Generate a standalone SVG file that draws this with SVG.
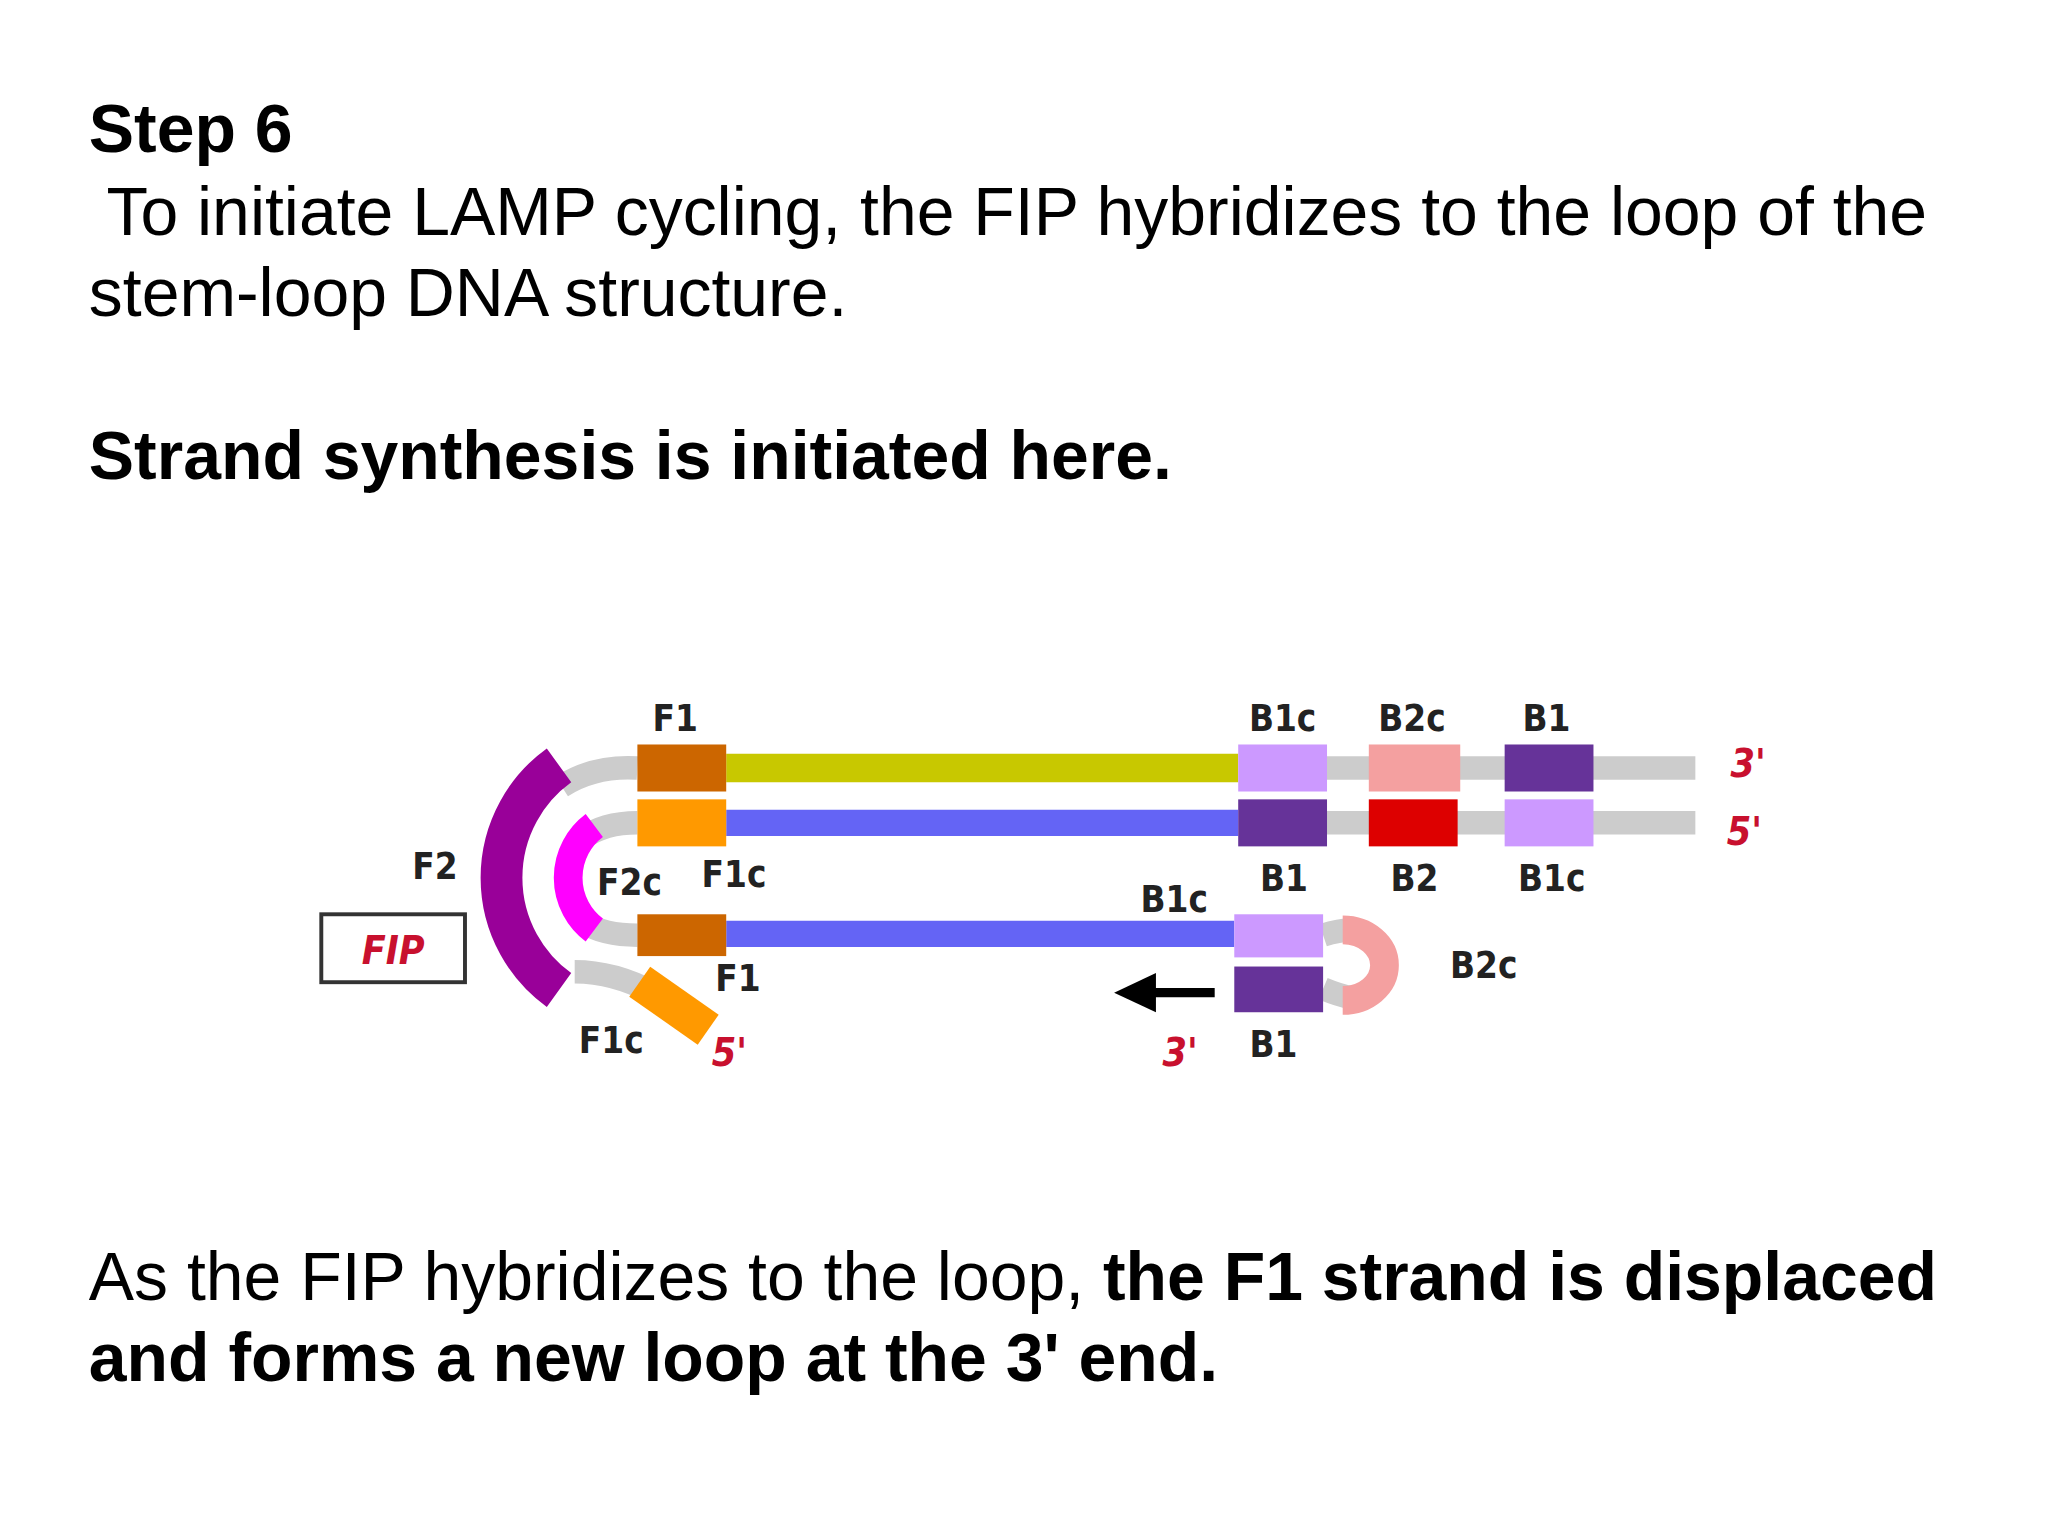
<svg xmlns="http://www.w3.org/2000/svg" width="2048" height="1536" viewBox="0 0 2048 1536">
<style>
.h{font-family:"Liberation Sans",Arial,sans-serif;font-size:52px;fill:#000}
.b{font-weight:bold}
.l{font-family:"DejaVu Sans Condensed","DejaVu Sans",sans-serif;font-weight:bold;font-size:28px;fill:#222}
.r{font-family:"DejaVu Sans Condensed","DejaVu Sans",sans-serif;font-weight:bold;font-style:italic;font-size:30px;fill:#c8102e}
.g{fill:none;stroke:#ccc;stroke-width:18}
</style>
<rect width="2048" height="1536" fill="#fff"/>
<g transform="scale(1.30612)">
<g id="text">
<text class="h b" x="68" y="116">Step 6</text>
<text class="h" x="68" y="180" xml:space="preserve"> To initiate LAMP cycling, the FIP hybridizes to the loop of the</text>
<text class="h" x="68" y="242">stem-loop DNA structure.</text>
<text class="h b" x="68" y="367">Strand synthesis is initiated here.</text>
<text class="h" x="68" y="995">As the FIP hybridizes to the loop, <tspan class="b">the F1 strand is displaced</tspan></text>
<text class="h b" x="68" y="1057">and forms a new loop at the 3' end.</text>
</g>
<g id="connectors">
<path class="g" d="M488,588 Q455,586 430,602"/>
<path class="g" d="M488,630 Q462,630 446,642"/>
<path class="g" d="M488,716 Q462,716 446,706"/>
<path class="g" d="M500,760 Q470,744 440,744"/>
<line class="g" x1="1016" y1="588" x2="1298" y2="588"/>
<line class="g" x1="1016" y1="630" x2="1298" y2="630"/>
<path class="g" d="M1013,716 Q1025,712 1035,712"/>
<path class="g" d="M1013,757 Q1025,762 1035,764"/>
<line x1="556" y1="588" x2="948" y2="588" stroke="#c8c800" stroke-width="22"/>
<line x1="556" y1="630" x2="948" y2="630" stroke="#6464f5" stroke-width="20"/>
<line x1="556" y1="715" x2="945" y2="715" stroke="#6464f5" stroke-width="20"/>
<line x1="880" y1="760" x2="930" y2="760" stroke="#000" stroke-width="7"/>
<polygon points="853,760 885,745 885,775" fill="#000"/>
</g>
<g id="F2arc"><path d="M428,586 A106,106 0 0 0 428,758" fill="none" stroke="#990099" stroke-width="32"/></g>
<g id="F2carc"><path d="M455,632 A50,50 0 0 0 455,712" fill="none" stroke="#ff00ff" stroke-width="22"/></g>
<g id="B2cloop"><path d="M1028,712 A32,27 0 0 1 1028,766" fill="none" stroke="#f4a0a0" stroke-width="22"/></g>
<g id="boxes">
<rect x="488" y="570" width="68" height="36" fill="#cc6600"/>
<rect x="488" y="612" width="68" height="36" fill="#ff9900"/>
<rect x="488" y="700" width="68" height="32" fill="#cc6600"/>
<rect x="-32" y="-14" width="64" height="28" fill="#ff9900" transform="translate(516,770) rotate(35)"/>
<rect x="948" y="570" width="68" height="36" fill="#cc99ff"/>
<rect x="1048" y="570" width="70" height="36" fill="#f4a0a0"/>
<rect x="1152" y="570" width="68" height="36" fill="#663399"/>
<rect x="948" y="612" width="68" height="36" fill="#663399"/>
<rect x="1048" y="612" width="68" height="36" fill="#dd0000"/>
<rect x="1152" y="612" width="68" height="36" fill="#cc99ff"/>
<rect x="945" y="700" width="68" height="33" fill="#cc99ff"/>
<rect x="945" y="740" width="68" height="35" fill="#663399"/>
</g>
<g id="FIP"><rect x="246" y="700" width="110" height="52" fill="#fff" stroke="#333" stroke-width="3"/><text class="r" x="301" y="738" text-anchor="middle">FIP</text></g>
<g id="labels">
<text class="l" x="517" y="560" text-anchor="middle">F1</text>
<text class="l" x="982" y="560" text-anchor="middle">B1c</text>
<text class="l" x="1081" y="560" text-anchor="middle">B2c</text>
<text class="l" x="1184" y="560" text-anchor="middle">B1</text>
<text class="l" x="333" y="673" text-anchor="middle">F2</text>
<text class="l" x="482" y="685" text-anchor="middle">F2c</text>
<text class="l" x="562" y="679" text-anchor="middle">F1c</text>
<text class="l" x="899" y="698" text-anchor="middle">B1c</text>
<text class="l" x="983" y="682" text-anchor="middle">B1</text>
<text class="l" x="1083" y="682" text-anchor="middle">B2</text>
<text class="l" x="1188" y="682" text-anchor="middle">B1c</text>
<text class="l" x="1136" y="749" text-anchor="middle">B2c</text>
<text class="l" x="565" y="759" text-anchor="middle">F1</text>
<text class="l" x="468" y="806" text-anchor="middle">F1c</text>
<text class="l" x="975" y="809" text-anchor="middle">B1</text>
<text class="r" x="1325" y="595">3'</text>
<text class="r" x="1322" y="647">5'</text>
<text class="r" x="545" y="816">5'</text>
<text class="r" x="890" y="816">3'</text>
</g>
</g>
</svg>
